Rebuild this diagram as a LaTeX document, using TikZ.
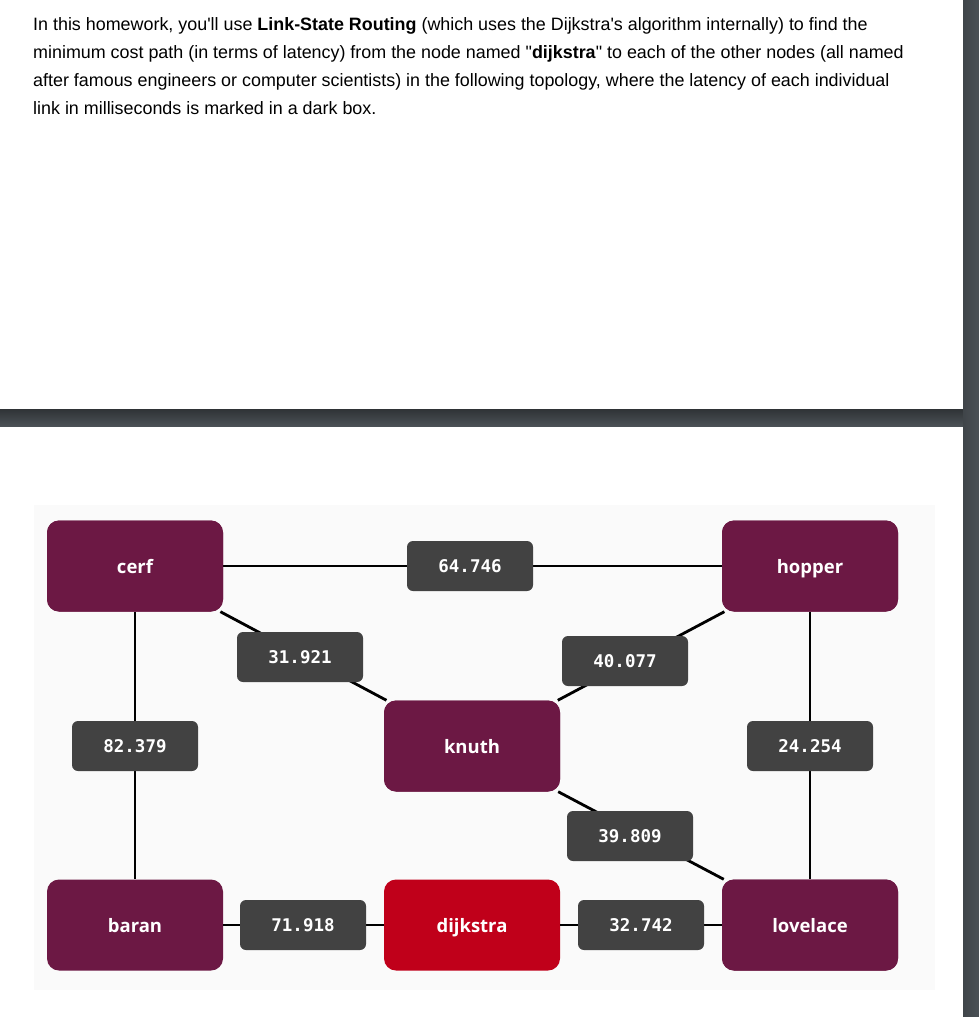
\documentclass[tikz,border=0pt]{standalone}
\usepackage{fontspec}
\setmainfont{Liberation Sans}
\newfontfamily\nodefont{Open Sans}
\newfontfamily\monofont{DejaVu Sans Mono}
\definecolor{plum}{HTML}{6C1844}
\definecolor{redhat}{HTML}{C0001A}
\definecolor{labelgray}{HTML}{424242}
\definecolor{bargray}{HTML}{4B5156}
\definecolor{bartop}{HTML}{2F3336}
\definecolor{diagbg}{HTML}{FAFAFA}
\begin{document}
\begin{tikzpicture}[x=1pt,y=-1pt,
  router/.style={draw=none, fill=plum, rounded corners=12pt, minimum width=176pt, minimum height=91pt,
    text=white, font=\nodefont\bfseries\fontsize{18.5}{22}\selectfont, inner sep=0pt,
    text height=16.5pt, text depth=1.5pt},
  source/.style={router, fill=redhat},
  lat/.style={draw=none, fill=labelgray, rounded corners=6pt, minimum width=126pt, minimum height=50pt,
    text=white, font=\monofont\bfseries\fontsize{17.5}{20}\selectfont, inner sep=0pt},
  link/.style={line width=2.8pt, black},
  para/.style={anchor=base west, inner sep=0pt, font=\fontsize{17.9}{20}\selectfont}
]
\useasboundingbox (0,0) rectangle (979,1017);
\fill[white] (0,0) rectangle (979,1017);
% top text
\node[para] (l1) at (33,30) {In this homework, you\textquotesingle ll use \textbf{Link-State Routing} (which uses the Dijkstra\textquotesingle s algorithm internally) to find the};
\node[para] (l2) at (33,58) {minimum cost path (in terms of latency) from the node named \textquotedbl\textbf{dijkstra}\textquotedbl{} to each of the other nodes (all named};
\node[para] (l3) at (33,86) {after famous engineers or computer scientists) in the following topology, where the latency of each individual};
\node[para] (l4) at (33,114) {link in milliseconds is marked in a dark box.};
% page separator bars
\shade[top color=bartop, bottom color=bargray] (0,409) rectangle (963,426);
\shade[left color=bargray!85!black, right color=bargray] (963,0) rectangle (979,1017);
% diagram background
\fill[diagbg] (34,505) rectangle (935,990);
% routers
\node[router] (cerf) at (135,566) {cerf};
\node[router] (hopper) at (810,566) {hopper};
\node[router] (knuth) at (472,746) {knuth};
\node[router] (baran) at (135,925) {baran};
\node[source] (dijkstra) at (472,925) {dijkstra};
\node[router] (lovelace) at (810,925) {lovelace};
% links
\draw[link] (cerf.east) -- (hopper.west);
\draw[link] (cerf.south) -- (baran.north);
\draw[link] (hopper.south) -- (lovelace.north);
\draw[link] (baran.east) -- (dijkstra.west);
\draw[link] (dijkstra.east) -- (lovelace.west);
\draw[link] (cerf) -- (knuth);
\draw[link] (hopper) -- (knuth);
\draw[link] (knuth) -- (lovelace);
% redraw routers on top of the diagonal links
\node[router] at (cerf) {cerf};
\node[router] at (hopper) {hopper};
\node[router] at (knuth) {knuth};
\node[router] at (lovelace) {lovelace};
% latency labels
\node[lat] (l64) at (470,566) {64.746};
\node[lat] (l31) at (300,657) {31.921};
\node[lat] (l40) at (625,661) {40.077};
\node[lat] (l82) at (135,746) {82.379};
\node[lat] (l24) at (810,746) {24.254};
\node[lat] (l39) at (630,836) {39.809};
\node[lat] (l71) at (303,925) {71.918};
\node[lat] (l32) at (641,925) {32.742};
\end{tikzpicture}
\end{document}
